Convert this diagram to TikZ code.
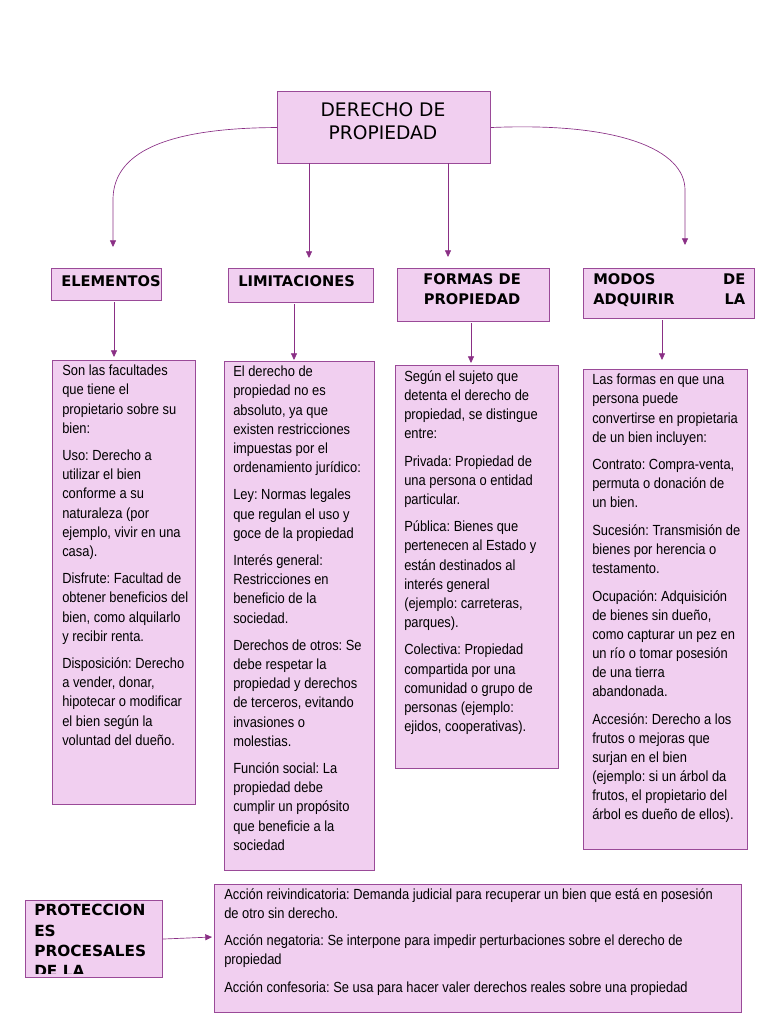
\documentclass[tikz,border=0pt]{standalone}
\usepackage{fontspec}
\setmainfont{Liberation Sans}[FakeStretch=0.88]
\newfontfamily\headfont{DejaVu Sans}
\usetikzlibrary{arrows.meta}
\definecolor{boxfill}{HTML}{F1CFF0}
\definecolor{boxline}{HTML}{9A4A98}
\definecolor{arr}{HTML}{8A2F85}
\newcommand{\gap}{\par\vspace{6.5pt}}
\frenchspacing
\hyphenpenalty=10000 \exhyphenpenalty=10000
\tikzset{
 bx/.style={draw=boxline,fill=boxfill,line width=0.8pt,anchor=north west,inner sep=0pt},
 body/.style={anchor=north west,align=flush left,font=\fontsize{11}{14.3}\selectfont,inner sep=0pt},
 head/.style={anchor=north west,align=left,font=\headfont\bfseries\fontsize{11}{15}\selectfont,inner sep=0pt},
 ar/.style={draw=arr,line width=0.5pt,-{Triangle[length=5pt,width=4.5pt]}}
}
\begin{document}
\begin{tikzpicture}[x=0.75pt,y=-0.75pt]
\useasboundingbox (0,0) rectangle (768,1024);
% title
\node[bx,minimum width=213*0.75pt,minimum height=72*0.75pt] (t) at (277,91) {};
\node[align=center,font=\headfont\fontsize{14}{17}\selectfont] (tt) at (383,121) {DERECHO DE\\PROPIEDAD};
% headings
\node[bx,minimum width=110*0.75pt,minimum height=32*0.75pt] (h1) at (51,268) {};
\node[head] (h1t) at (61,275) {ELEMENTOS};
\node[bx,minimum width=145*0.75pt,minimum height=34*0.75pt] (h2) at (228,268) {};
\node[head] (h2t) at (238,275) {LIMITACIONES};
\node[bx,minimum width=152*0.75pt,minimum height=53*0.75pt] (h3) at (397,268) {};
\node[head,align=center] (h3t) at (423,273) {FORMAS DE\\PROPIEDAD};
\node[bx,minimum width=171*0.75pt,minimum height=50*0.75pt] (h4) at (583,268) {};
\node[head,text width=152*0.75pt] (h4t) at (593,273) {MODOS\hfill DE\\ADQUIRIR\hfill LA};
% bodies
\node[bx,minimum width=143*0.75pt,minimum height=444*0.75pt] (b1) at (52,360) {};
\node[body,text width=126*0.75pt] (b1t) at (62,365) {Son las facultades que tiene el propietario sobre su bien:\gap
Uso: Derecho a utilizar el bien conforme a su naturaleza (por ejemplo, vivir en una casa).\gap
Disfrute: Facultad de obtener beneficios del bien, como alquilarlo y recibir renta.\gap
Disposición: Derecho a vender, donar, hipotecar o modificar el bien según la voluntad del dueño.};
\node[bx,minimum width=150*0.75pt,minimum height=509*0.75pt] (b2) at (224,361) {};
\node[body,text width=132*0.75pt] (b2t) at (233,366) {El derecho de propiedad no es absoluto, ya que existen restricciones impuestas por el ordenamiento jurídico:\gap
Ley: Normas legales que regulan el uso y goce de la propiedad\gap
Interés general: Restricciones en beneficio de la sociedad.\gap
Derechos de otros: Se debe respetar la propiedad y derechos de terceros, evitando invasiones o molestias.\gap
Función social: La propiedad debe cumplir un propósito que beneficie a la sociedad};
\node[bx,minimum width=163*0.75pt,minimum height=403*0.75pt] (b3) at (395,365) {};
\node[body,text width=136*0.75pt] (b3t) at (404,370) {Según el sujeto que detenta el derecho de propiedad, se distingue entre:\gap
Privada: Propiedad de una persona o entidad particular.\gap
Pública: Bienes que pertenecen al Estado y están destinados al interés general (ejemplo: carreteras, parques).\gap
Colectiva: Propiedad compartida por una comunidad o grupo de personas (ejemplo: ejidos, cooperativas).};
\node[bx,minimum width=164*0.75pt,minimum height=480*0.75pt] (b4) at (583,369) {};
\node[body,text width=148*0.75pt] (b4t) at (592,374) {Las formas en que una persona puede convertirse en propietaria de un bien incluyen:\gap
Contrato: Compra-venta, permuta o donación de un bien.\gap
Sucesión: Transmisión de bienes por herencia o testamento.\gap
Ocupación: Adquisición de bienes sin dueño, como capturar un pez en un río o tomar posesión de una tierra abandonada.\gap
Accesión: Derecho a los frutos o mejoras que surjan en el bien (ejemplo: si un árbol da frutos, el propietario del árbol es dueño de ellos).};
% bottom
\node[bx,minimum width=137*0.75pt,minimum height=77*0.75pt] (p) at (25,900) {};
\begin{scope}
\clip (25,900) rectangle (162,973);
\node[head,font=\headfont\bfseries\fontsize{11.5}{15.3}\selectfont] (pt) at (34,904) {PROTECCION\\ES\\PROCESALES\\DE LA};
\end{scope}
\node[bx,minimum width=527*0.75pt,minimum height=128*0.75pt] (q) at (214,884) {};
\node[body,text width=500*0.75pt] (qt) at (224,888) {Acción reivindicatoria: Demanda judicial para recuperar un bien que está en posesión de otro sin derecho.\gap
Acción negatoria: Se interpone para impedir perturbaciones sobre el derecho de propiedad\gap
Acción confesoria: Se usa para hacer valer derechos reales sobre una propiedad};
% connectors
\draw[ar] (t.west) .. controls (150,128) and (113,160) .. (113,200) -- (113,247);
\draw[ar] (t.east) .. controls (620,122) and (685,150) .. (685,190) -- (685,245);
\draw[ar] (309,163) -- (309,258);
\draw[ar] (448,163) -- (448,257);
\draw[ar] (114,302) -- (114,357);
\draw[ar] (294,304) -- (294,360);
\draw[ar] (471,323) -- (471,363);
\draw[ar] (662,320) -- (662,360);
\draw[ar] (p.east) -- (212,937);
\end{tikzpicture}
\end{document}
